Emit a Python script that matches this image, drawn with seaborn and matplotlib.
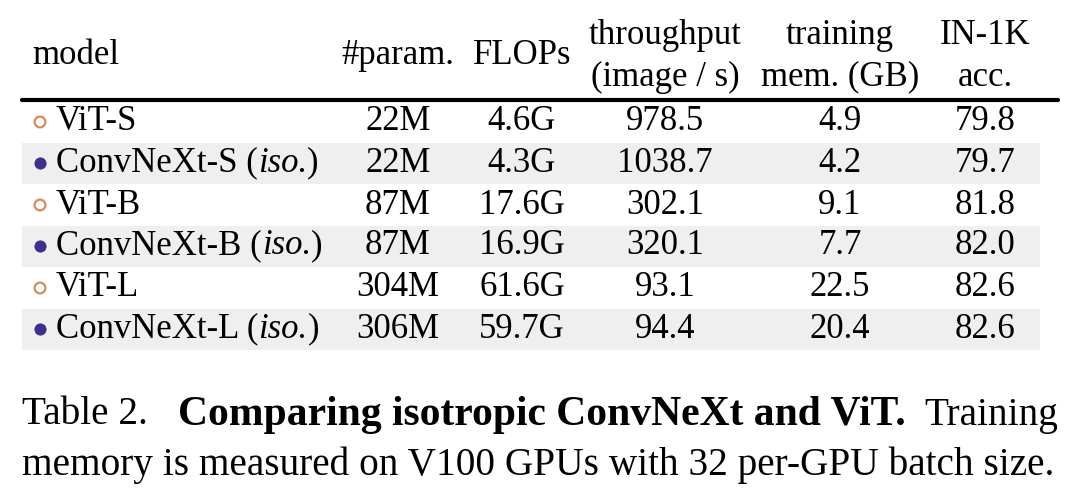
import matplotlib
matplotlib.use("Agg")
import matplotlib.pyplot as plt
import seaborn as sns
import pandas as pd

sns.set_theme(style="white")
plt.rcParams['font.family'] = ['Liberation Serif', 'DejaVu Serif']
plt.rcParams['text.color'] = 'black'

models = ["ViT-S", "ConvNeXt-S", "ViT-B", "ConvNeXt-B", "ViT-L", "ConvNeXt-L"]
kinds = ["vit", "conv", "vit", "conv", "vit", "conv"]
params = ["22M", "22M", "87M", "87M", "304M", "306M"]
flops = ["4.6G", "4.3G", "17.6G", "16.9G", "61.6G", "59.7G"]
throughput = ["978.5", "1038.7", "302.1", "320.1", "93.1", "94.4"]
mem = ["4.9", "4.2", "9.1", "7.7", "22.5", "20.4"]
acc = ["79.8", "79.7", "81.8", "82.0", "82.6", "82.6"]

fig = plt.figure(figsize=(10.66, 5.0), dpi=100)
ax = fig.add_axes([0, 0, 1, 1])
ax.set_xlim(0, 1066)
ax.set_ylim(500, 0)
ax.axis("off")

FS = 25
CFS = 28.3
row_y = [122, 163, 205, 246, 288, 329]
cols_x = [398, 522, 665, 840, 985]

for i, k in enumerate(kinds):
    if k == "conv":
        ax.add_patch(plt.Rectangle((22, row_y[i] - 20.5), 1018, 41, color="#efefef", lw=0, zorder=0))
ax.plot([22, 1058], [100, 100], color="black", lw=3)

ax.text(32, 55, "model", fontsize=FS, va="center", ha="left")
ax.text(398, 55, "#param.", fontsize=FS, va="center", ha="center")
ax.text(522, 55, "FLOPs", fontsize=FS, va="center", ha="center")
for x, a, b in [(665, "throughput", "(image / s)"), (840, "training", "mem. (GB)"), (985, "IN-1K", "acc.")]:
    ax.text(x, 35, a, fontsize=FS, va="center", ha="center")
    ax.text(x, 77, b, fontsize=FS, va="center", ha="center")

fig.canvas.draw()
renderer = fig.canvas.get_renderer()

def widths(pieces):
    ws = []
    for txt, weight, style, size in pieces:
        t = ax.text(0, 0, txt, fontsize=size, fontweight=weight, fontstyle=style)
        ws.append(t.get_window_extent(renderer=renderer).width)
        t.remove()
    return ws

def draw_seq(x, y, pieces, gaps=None):
    ws = widths(pieces)
    for j, ((txt, weight, style, size), w) in enumerate(zip(pieces, ws)):
        ax.text(x, y, txt, fontsize=size, fontweight=weight, fontstyle=style, va="center", ha="left")
        x += w + (gaps[j] if gaps else 0)

df = pd.DataFrame({"x": [40] * 6, "y": row_y, "kind": kinds})
sns.scatterplot(data=df[df.kind == "vit"], x="x", y="y", ax=ax, s=60, marker="o",
                facecolor="none", edgecolor="#d9895a", linewidth=1.6, legend=False)
sns.scatterplot(data=df[df.kind == "conv"], x="x", y="y", ax=ax, s=65, marker="o",
                color="#3b2f8f", edgecolor="#3b2f8f", legend=False)
ax.set_xlim(0, 1066); ax.set_ylim(500, 0)

for i in range(6):
    y = row_y[i]
    if kinds[i] == "conv":
        draw_seq(56, y, [(models[i] + " (", "normal", "normal", FS), ("iso.", "normal", "italic", FS),
                         (")", "normal", "normal", FS)])
    else:
        draw_seq(56, y, [(models[i], "normal", "normal", FS)])
    for x, v in zip(cols_x, [params[i], flops[i], throughput[i], mem[i], acc[i]]):
        ax.text(x, y, v, fontsize=FS, va="center", ha="center")

p1 = [("Table 2.", "normal", "normal", CFS), ("Comparing isotropic ConvNeXt and ViT.", "bold", "normal", 30),
      ("Training", "normal", "normal", CFS)]
w1 = sum(widths(p1))
extra = max(0, (1058 - 22) - w1)
draw_seq(22, 415, p1, gaps=[extra * 0.62, extra * 0.38, 0])
draw_seq(22, 465, [("memory is measured on V100 GPUs with 32 per-GPU batch size.", "normal", "normal", CFS)])

fig.savefig("out.png", dpi=100)
